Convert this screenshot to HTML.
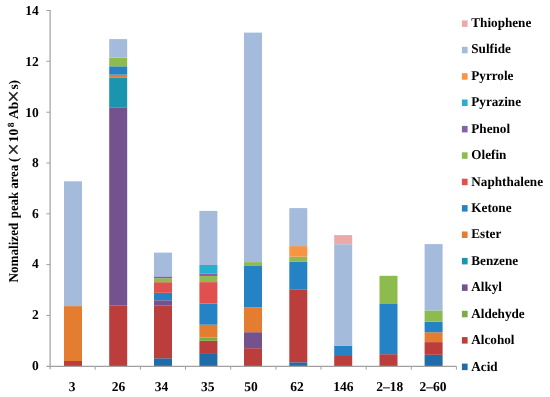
<!DOCTYPE html>
<html><head><meta charset="utf-8"><title>chart</title>
<style>
html,body{margin:0;padding:0;background:#fff;}
svg{display:block;}
text{font-family:"Liberation Serif",serif;font-weight:bold;fill:#000;text-rendering:geometricPrecision;}
</style></head><body>
<svg width="550" height="397" viewBox="0 0 550 397">
<rect width="550" height="397" fill="#fff"/>
<rect x="64" y="361" width="18.0" height="5.0" fill="#BB3E3C"/>
<rect x="64" y="306.1" width="18.0" height="54.9" fill="#E47D30"/>
<rect x="64" y="181.3" width="18.0" height="124.8" fill="#A5BBDB"/>
<rect x="109.2" y="305.3" width="18.0" height="60.7" fill="#BB3E3C"/>
<rect x="109.2" y="107.8" width="18.0" height="197.5" fill="#74528E"/>
<rect x="109.2" y="77.4" width="18.0" height="30.4" fill="#1A95AD"/>
<rect x="109.2" y="74.7" width="18.0" height="2.7" fill="#E47D30"/>
<rect x="109.2" y="66.3" width="18.0" height="8.4" fill="#2583C5"/>
<rect x="109.2" y="57.7" width="18.0" height="8.6" fill="#8DBB4D"/>
<rect x="109.2" y="39.1" width="18.0" height="18.6" fill="#A5BBDB"/>
<rect x="154" y="358.3" width="18.0" height="7.7" fill="#1F6CA8"/>
<rect x="154" y="305.3" width="18.0" height="53.0" fill="#BB3E3C"/>
<rect x="154" y="300.3" width="18.0" height="5.0" fill="#74528E"/>
<rect x="154" y="292.8" width="18.0" height="7.5" fill="#2583C5"/>
<rect x="154" y="282.2" width="18.0" height="10.6" fill="#E0504E"/>
<rect x="154" y="278.2" width="18.0" height="4.0" fill="#8DBB4D"/>
<rect x="154" y="276.4" width="18.0" height="1.8" fill="#8660AE"/>
<rect x="154" y="252.6" width="18.0" height="23.8" fill="#A5BBDB"/>
<rect x="199.4" y="353.1" width="18.0" height="12.9" fill="#1F6CA8"/>
<rect x="199.4" y="340.8" width="18.0" height="12.3" fill="#BB3E3C"/>
<rect x="199.4" y="337.5" width="18.0" height="3.3" fill="#7CAB45"/>
<rect x="199.4" y="324.7" width="18.0" height="12.8" fill="#E47D30"/>
<rect x="199.4" y="303.5" width="18.0" height="21.2" fill="#2583C5"/>
<rect x="199.4" y="282.1" width="18.0" height="21.4" fill="#E0504E"/>
<rect x="199.4" y="276" width="18.0" height="6.1" fill="#8DBB4D"/>
<rect x="199.4" y="273.8" width="18.0" height="2.2" fill="#8660AE"/>
<rect x="199.4" y="265" width="18.0" height="8.8" fill="#27AFCF"/>
<rect x="199.4" y="210.9" width="18.0" height="54.1" fill="#A5BBDB"/>
<rect x="244" y="348.2" width="18.0" height="17.8" fill="#BB3E3C"/>
<rect x="244" y="332.2" width="18.0" height="16.0" fill="#74528E"/>
<rect x="244" y="307.4" width="18.0" height="24.8" fill="#E47D30"/>
<rect x="244" y="265.4" width="18.0" height="42.0" fill="#2583C5"/>
<rect x="244" y="262.1" width="18.0" height="3.3" fill="#8DBB4D"/>
<rect x="244" y="32.6" width="18.0" height="229.5" fill="#A5BBDB"/>
<rect x="289.3" y="362.3" width="18.0" height="3.7" fill="#1F6CA8"/>
<rect x="289.3" y="289.8" width="18.0" height="72.5" fill="#BB3E3C"/>
<rect x="289.3" y="261.5" width="18.0" height="28.3" fill="#2583C5"/>
<rect x="289.3" y="256.7" width="18.0" height="4.8" fill="#8DBB4D"/>
<rect x="289.3" y="246.1" width="18.0" height="10.6" fill="#F79545"/>
<rect x="289.3" y="208.1" width="18.0" height="38.0" fill="#A5BBDB"/>
<rect x="334.2" y="356" width="18.0" height="10.0" fill="#BB3E3C"/>
<rect x="334.2" y="345.6" width="18.0" height="10.4" fill="#2583C5"/>
<rect x="334.2" y="244.2" width="18.0" height="101.4" fill="#A5BBDB"/>
<rect x="334.2" y="235.1" width="18.0" height="9.1" fill="#EBA9A8"/>
<rect x="379.5" y="354.2" width="18.0" height="11.8" fill="#BB3E3C"/>
<rect x="379.5" y="304" width="18.0" height="50.2" fill="#2583C5"/>
<rect x="379.5" y="275.8" width="18.0" height="28.2" fill="#8DBB4D"/>
<rect x="424.6" y="354.8" width="18.0" height="11.2" fill="#1F6CA8"/>
<rect x="424.6" y="342.1" width="18.0" height="12.7" fill="#BB3E3C"/>
<rect x="424.6" y="332.3" width="18.0" height="9.8" fill="#E47D30"/>
<rect x="424.6" y="321.7" width="18.0" height="10.6" fill="#2583C5"/>
<rect x="424.6" y="310.4" width="18.0" height="11.3" fill="#8DBB4D"/>
<rect x="424.6" y="244.1" width="18.0" height="66.3" fill="#A5BBDB"/>
<g stroke="#a0a0a0" stroke-width="1.2" fill="none">
<path d="M50.1 9.9 V369.3 M46.4 366.3 H456.4"/>
<path stroke-width="1" d="M46.4 10.5 H50.1"/>
<path stroke-width="1" d="M46.4 61.3 H50.1"/>
<path stroke-width="1" d="M46.4 112.2 H50.1"/>
<path stroke-width="1" d="M46.4 163.0 H50.1"/>
<path stroke-width="1" d="M46.4 213.8 H50.1"/>
<path stroke-width="1" d="M46.4 264.6 H50.1"/>
<path stroke-width="1" d="M46.4 315.5 H50.1"/>
<path stroke-width="1" d="M95.2 366.3 V369.7"/>
<path stroke-width="1" d="M140.4 366.3 V369.7"/>
<path stroke-width="1" d="M185.5 366.3 V369.7"/>
<path stroke-width="1" d="M230.7 366.3 V369.7"/>
<path stroke-width="1" d="M275.9 366.3 V369.7"/>
<path stroke-width="1" d="M321.0 366.3 V369.7"/>
<path stroke-width="1" d="M366.2 366.3 V369.7"/>
<path stroke-width="1" d="M411.3 366.3 V369.7"/>
<path stroke-width="1" d="M456.4 366.3 V369.7"/>
</g>
<text x="38.8" y="15.2" font-size="13.5" text-anchor="end">14</text>
<text x="38.8" y="65.8" font-size="13.5" text-anchor="end">12</text>
<text x="38.8" y="116.5" font-size="13.5" text-anchor="end">10</text>
<text x="38.8" y="167.1" font-size="13.5" text-anchor="end">8</text>
<text x="38.8" y="217.8" font-size="13.5" text-anchor="end">6</text>
<text x="38.8" y="268.4" font-size="13.5" text-anchor="end">4</text>
<text x="38.8" y="319.0" font-size="13.5" text-anchor="end">2</text>
<text x="38.8" y="369.7" font-size="13.5" text-anchor="end">0</text>
<text x="72.0" y="390.7" font-size="13.5" text-anchor="middle">3</text>
<text x="118.5" y="390.7" font-size="13.5" text-anchor="middle">26</text>
<text x="161.4" y="390.7" font-size="13.5" text-anchor="middle">34</text>
<text x="207.8" y="390.7" font-size="13.5" text-anchor="middle">35</text>
<text x="250.9" y="390.7" font-size="13.5" text-anchor="middle">50</text>
<text x="297.0" y="390.7" font-size="13.5" text-anchor="middle">62</text>
<text x="343.3" y="390.7" font-size="13.5" text-anchor="middle">146</text>
<text x="389.7" y="390.7" font-size="13.5" text-anchor="middle">2–18</text>
<text x="433.1" y="390.7" font-size="13.5" text-anchor="middle">2–60</text>
<text transform="translate(18.3,282.4) rotate(-90) scale(0.97,1)" font-size="13.5">Nomalized</text>
<text transform="translate(18.3,218.2) rotate(-90) scale(0.95,1)" font-size="13.5">peak</text>
<text transform="translate(18.3,188.8) rotate(-90) scale(0.95,1)" font-size="13.5">area</text>
<text transform="translate(18.3,162.0) rotate(-90) scale(1,1)" font-size="13.5">(</text>
<text transform="translate(18.3,156.0) rotate(-90) scale(1,1)" font-family="Liberation Sans" font-weight="normal" font-size="23" dy="2.5" style="fill:#2a2a2a">×</text>
<text transform="translate(18.3,142.2) rotate(-90) scale(1,1)" font-size="13.5">10</text>
<text transform="translate(18.3,127.3) rotate(-90) scale(1,1)" font-size="9.5" dy="-4.4">8</text>
<text transform="translate(18.3,119.0) rotate(-90) scale(1,1)" font-size="13.5">Ab</text>
<text transform="translate(18.3,103.1) rotate(-90) scale(1,1)" font-family="Liberation Sans" font-weight="normal" font-size="23" dy="2.5" style="fill:#2a2a2a">×</text>
<text transform="translate(18.3,89.6) rotate(-90) scale(1,1)" font-size="13.5">s</text>
<text transform="translate(18.3,84.6) rotate(-90) scale(1,1)" font-size="13.5">)</text>
<rect x="461.9" y="20.4" width="5.7" height="6.5" fill="#EBA9A8"/>
<text transform="translate(471.3,26.8) scale(0.975,1)" font-size="13.5">Thiophene</text>
<rect x="461.9" y="46.8" width="5.7" height="6.5" fill="#A5BBDB"/>
<text transform="translate(471.3,53.2) scale(0.975,1)" font-size="13.5">Sulfide</text>
<rect x="461.9" y="73.2" width="5.7" height="6.5" fill="#F79545"/>
<text transform="translate(471.3,79.7) scale(0.975,1)" font-size="13.5">Pyrrole</text>
<rect x="461.9" y="99.5" width="5.7" height="6.5" fill="#27AFCF"/>
<text transform="translate(471.3,106.1) scale(0.975,1)" font-size="13.5">Pyrazine</text>
<rect x="461.9" y="125.9" width="5.7" height="6.5" fill="#8660AE"/>
<text transform="translate(471.3,132.6) scale(0.975,1)" font-size="13.5">Phenol</text>
<rect x="461.9" y="152.3" width="5.7" height="6.5" fill="#8DBB4D"/>
<text transform="translate(471.3,159.1) scale(0.975,1)" font-size="13.5">Olefin</text>
<rect x="461.9" y="178.7" width="5.7" height="6.5" fill="#E0504E"/>
<text transform="translate(471.3,185.5) scale(0.975,1)" font-size="13.5">Naphthalene</text>
<rect x="461.9" y="205.1" width="5.7" height="6.5" fill="#2583C5"/>
<text transform="translate(471.3,212.0) scale(0.975,1)" font-size="13.5">Ketone</text>
<rect x="461.9" y="231.5" width="5.7" height="6.5" fill="#E47D30"/>
<text transform="translate(471.3,238.4) scale(0.975,1)" font-size="13.5">Ester</text>
<rect x="461.9" y="257.9" width="5.7" height="6.5" fill="#1A95AD"/>
<text transform="translate(471.3,264.8) scale(0.975,1)" font-size="13.5">Benzene</text>
<rect x="461.9" y="284.4" width="5.7" height="6.5" fill="#74528E"/>
<text transform="translate(471.3,291.3) scale(0.975,1)" font-size="13.5">Alkyl</text>
<rect x="461.9" y="310.8" width="5.7" height="6.5" fill="#7CAB45"/>
<text transform="translate(471.3,317.8) scale(0.975,1)" font-size="13.5">Aldehyde</text>
<rect x="461.9" y="337.1" width="5.7" height="6.5" fill="#BB3E3C"/>
<text transform="translate(471.3,344.2) scale(0.975,1)" font-size="13.5">Alcohol</text>
<rect x="461.9" y="363.6" width="5.7" height="6.5" fill="#1F6CA8"/>
<text transform="translate(471.3,370.6) scale(0.975,1)" font-size="13.5">Acid</text>
</svg></body></html>
